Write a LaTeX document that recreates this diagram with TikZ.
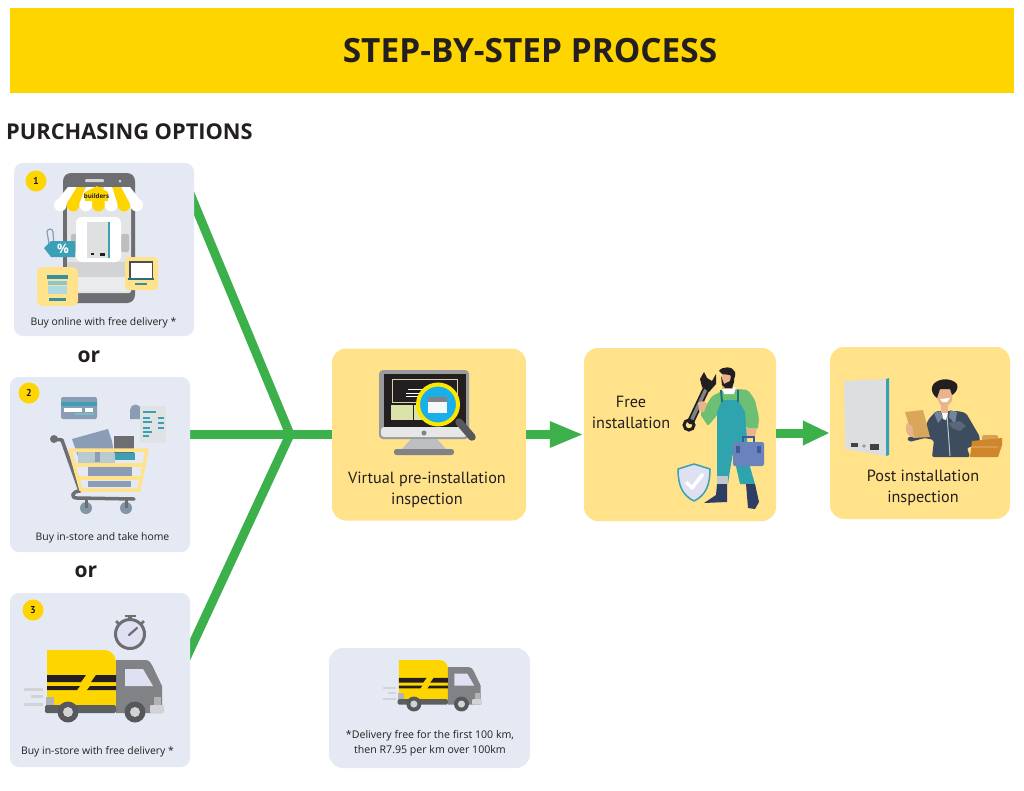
\documentclass[tikz,border=0pt]{standalone}
\usepackage{fontspec}
\setmainfont{PT Sans}
\newfontfamily\capfont{Open Sans}
\usetikzlibrary{arrows.meta,calc}
\definecolor{banner}{HTML}{FFD500}
\definecolor{cardblue}{HTML}{E4E9F4}
\definecolor{cardyellow}{HTML}{FFE28A}
\definecolor{flow}{HTML}{3CB04B}
\definecolor{ink}{HTML}{231F20}
\definecolor{dgrey}{HTML}{6D6E71}
\definecolor{mgrey}{HTML}{808285}
\definecolor{lgrey}{HTML}{D1D3D4}
\definecolor{teal}{HTML}{3AA0B5}
\definecolor{slate}{HTML}{8A9DB5}
\definecolor{lav}{HTML}{DFE0F2}
\definecolor{overall}{HTML}{2FA3AE}
\definecolor{shirt}{HTML}{6CBF73}
\definecolor{skin}{HTML}{E9B48C}
\definecolor{jacket}{HTML}{3D4C5E}
\definecolor{tan}{HTML}{D9A65C}
\definecolor{box}{HTML}{D0862B}
\definecolor{kitblue}{HTML}{6B83BD}
\definecolor{kitdark}{HTML}{3F5A9A}
\definecolor{boot}{HTML}{2C3E63}
\definecolor{panelgreen}{HTML}{DCE3A8}
\definecolor{lens}{HTML}{1AAEEB}
\definecolor{rim}{HTML}{FDE600}
\tikzset{
  x=1pt,y=-1pt,
  card/.style={rectangle,rounded corners=9pt,inner sep=0pt,fill=cardblue},
  stage/.style={rectangle,rounded corners=14pt,inner sep=0pt,fill=cardyellow},
  badge/.style={circle,fill=banner,minimum size=21pt,inner sep=0pt,text=ink,font=\fontsize{10}{10}\selectfont\bfseries},
  caption/.style={text=ink,font=\capfont\fontsize{10.4}{12.5}\selectfont,align=center},
  stagetext/.style={text=ink,font=\fontsize{16.2}{21}\selectfont,align=center},
  orword/.style={text=ink,font=\capfont\fontsize{21}{22}\selectfont\bfseries},
  flowline/.style={draw=flow,line width=9pt},
  flowarrow/.style={draw=flow,line width=9pt,-{Triangle[length=34pt,width=24pt]}},
  truckart/.pic={
    \fill[banner] (47,650) -- (104,650) .. controls (112,650) and (116,656) .. (116,664) -- (116,707) -- (47,707) -- cycle;
    \fill[mgrey] (116,660) -- (145,660) .. controls (149,660) and (150,662) .. (152,665) -- (162,686) -- (162,713) -- (116,713) -- cycle;
    \fill[lav] (125,669) -- (143,669) -- (153,686) -- (125,686) -- cycle;
    \fill[ink] (47,675) -- (86,675) -- (81,682) -- (47,682) -- cycle;
    \fill[ink] (96,675) -- (116,675) -- (116,682) -- (91,682) -- cycle;
    \fill[ink] (47,686) -- (80,686) -- (77,690) -- (47,690) -- cycle;
    \fill[ink] (90,686) -- (116,686) -- (116,690) -- (87,690) -- cycle;
    \fill[dgrey!85!black,rounded corners=1.5pt] (45,705) rectangle (116,713);
    \fill[lgrey!85!black] (46,697) rectangle (54,705);
    \fill[lgrey!85!black] (154,697) rectangle (161,706);
    \fill[lgrey,rounded corners=1pt] (150,705) rectangle (164,713);
    \fill[lgrey] (24,688) rectangle (43,691);
    \fill[lgrey] (31,695) rectangle (43,698);
    \fill[lgrey] (24,703) rectangle (43,706);
    \foreach \wx in {68,135}{
      \fill[dgrey!80!black] (\wx,712) circle (10.5pt);
      \fill[lgrey] (\wx,712) circle (5pt);
    }
  }
}
\begin{document}
\begin{tikzpicture}
\useasboundingbox (0,0) rectangle (1024,790);
\fill[white] (0,0) rectangle (1024,790);

% hub of the three purchasing routes
\coordinate (hub) at (290,434.5);
\coordinate (from1) at (186,184);
\coordinate (from2) at (180,434.5);
\coordinate (from3) at (182,667);
\coordinate (into1) at (340,434.5);
\draw[flowline] (from1) -- (hub);
\draw[flowline] (from3) -- (hub);
\draw[flowline] (from2) -- (into1);

% header
\node[rectangle,fill=banner,minimum width=1004pt,minimum height=85pt,inner sep=0pt] (header) at (512,50.5) {};
\node[text=ink,font=\capfont\fontsize{33.4}{34}\selectfont\bfseries] (title) at (530,50.5) {STEP-BY-STEP PROCESS};
\node[text=ink,font=\capfont\fontsize{21.8}{24}\selectfont\bfseries,anchor=west,inner sep=0pt] (sub) at (6,132) {PURCHASING OPTIONS};

% cards
\node[card,minimum width=180pt,minimum height=173pt] (card1) at (104,249.5) {};
\node[card,minimum width=180pt,minimum height=175pt] (card2) at (100,464.5) {};
\node[card,minimum width=180pt,minimum height=174pt] (card3) at (100,680) {};
\node[card,rounded corners=14pt,minimum width=201pt,minimum height=120pt] (note) at (429.5,708) {};
\node[stage,minimum width=194pt,minimum height=172pt] (box1) at (429,434.5) {};
\node[stage,minimum width=192pt,minimum height=173pt] (box2) at (680,434.5) {};
\node[stage,minimum width=180pt,minimum height=172pt] (box3) at (920,433) {};

% connectors
\draw[flowarrow] (box1.east) -- (box2.west);
\draw[flowarrow,-{Triangle[length=27pt,width=23pt]}] (box2.east |- box3.west) -- (box3.west);

% badges and "or"
\node[badge] (b1) at (36,181) {1};
\node[badge] (b2) at (29,393) {2};
\node[badge] (b3) at (33,610) {3};
\node[orword] (or1) at (89,356.5) {or};
\node[orword] (or2) at (86,571.5) {or};

% --- shop on a phone ---
\fill[dgrey,rounded corners=8pt] (63,173) rectangle (135,303);
\fill[lgrey!60,rounded corners=2pt] (67,188) rectangle (131,293);
\fill[lgrey] (67,262) rectangle (131,277);
\fill[lgrey!45] (67,277) rectangle (131,291);
\fill[lgrey!90!black,rounded corners=2pt] (71,234) rectangle (79,252);
\fill[lgrey!90!black,rounded corners=2pt] (121,234) rectangle (129,252);
\fill[lgrey,rounded corners=1pt] (85,179) rectangle (104,182);
\fill[lgrey] (120,181) circle (1.5pt);
\foreach \i/\col in {0/white,1/banner,2/white,3/banner,4/white,5/banner,6/white}{
  \pgfmathsetmacro{\ba}{54+\i*12.71}
  \pgfmathsetmacro{\bb}{\ba+12.71}
  \pgfmathsetmacro{\ta}{68+\i*8.86}
  \pgfmathsetmacro{\tb}{\ta+8.86}
  \pgfmathsetmacro{\cx}{(\ba+\bb)/2}
  \fill[\col] (\ta,187) -- (\tb,187) -- (\bb,204) -- (\ba,204) -- cycle;
  \fill[\col] (\cx,205) circle (6.35pt);
}
\fill[banner] (85,192) -- (97,186) -- (108,192) -- (108,201) -- (85,201) -- cycle;
\node[text=ink,inner sep=0pt,font=\capfont\fontsize{6.2}{6.5}\selectfont\bfseries] (logo) at (96.5,196) {builders};
\fill[white,rounded corners=6pt] (76,217) rectangle (121,262);
\fill[lgrey!70] (87,222) rectangle (108,258);
\fill[teal] (108,222) rectangle (110,258);
\fill[ink] (91,253) rectangle (94,255);
\fill[ink] (100,253) rectangle (105,256);
\draw[slate,line width=1.2pt] (50,249) -- (47,232) arc[start angle=180,end angle=0,radius=3pt] -- (54,247);
\fill[teal] (44,248) -- (51,241) -- (75,241) -- (75,257) -- (51,257) -- cycle;
\node[text=white,inner sep=0pt,font=\capfont\fontsize{13}{13}\selectfont\bfseries] (pct) at (63,249) {\%};
\fill[cardyellow,rounded corners=5pt] (37,267) rectangle (78,306);
\fill[teal!90!black] (47,275) rectangle (68,279);
\fill[teal!60] (48,281) rectangle (67,285);
\fill[teal!40] (48,286) rectangle (67,294);
\fill[teal!90!black] (49,298) rectangle (66,301);
\fill[cardyellow,rounded corners=4pt] (125,257) rectangle (158,290);
\fill[ink!80] (129,261) rectangle (153,279);
\fill[white] (130.5,262.5) rectangle (151.5,277.5);
\fill[teal!70!black] (128,278) rectangle (154,280);
\fill[teal!90!black] (135,283) rectangle (147,285);
\node[caption] (c1) at (103.5,323) {Buy online with free delivery *};

% --- shopping cart ---
\fill[slate,rounded corners=2pt] (61,397) rectangle (97,419);
\fill[teal] (61,402) rectangle (97,406);
\fill[white] (64,408) rectangle (82,412);
\fill[white] (85,408) rectangle (93,412);
\fill[teal!70] (75,413) rectangle (94,415);
\fill[slate] (130,419) -- (130,410) arc[start angle=180,end angle=0,radius=5.5pt] -- (141,419) -- cycle;
\fill[lgrey!65] (140,406) -- (166,406) -- (166,443) -- (140,443) -- cycle;
\foreach \ly/\lx in {411/156,417/150,421/152,427/150,431/152,435/149}
  \fill[teal] (143,\ly) rectangle (\lx,\ly+1.6);
\foreach \ly in {417,422,427}
  \fill[teal] (158,\ly) rectangle (164,\ly+1.6);
\fill[slate] (72,439) -- (108,429) -- (112,441) -- (115,462) -- (80,462) -- cycle;
\fill[teal!15!lgrey] (78,452) rectangle (115,464);
\fill[slate] (95,447) rectangle (100,462);
\fill[dgrey] (114,436) rectangle (134,453);
\fill[teal] (115,453) rectangle (135,460);
\fill[slate] (88,466) rectangle (132,477);
\fill[slate] (88,481) rectangle (131,487);
\draw[dgrey,line width=3.5pt,line cap=round,line join=round] (53,439) -- (62,440) -- (80,491) .. controls (72,491) and (70,498) .. (77,498) -- (134,499);
\fill[dgrey] (54,439) circle (4pt);
\draw[cardyellow,line width=3.5pt,line join=round] (70,450) -- (147,450) -- (139,490) -- (81,490) -- cycle;
\draw[cardyellow,line width=3.2pt] (74,465) -- (144,465);
\draw[cardyellow,line width=3.2pt] (77,478) -- (142,478);
\fill[slate!80!dgrey] (86,508) circle (6pt);
\fill[slate!80!dgrey] (126,508) circle (6pt);
\fill[dgrey] (84.5,499) rectangle (87.5,508);
\fill[dgrey] (124.5,499) rectangle (127.5,508);
\node[caption] (c2) at (102.5,538) {Buy in-store and take home};

% --- delivery truck and stopwatch ---
\fill[dgrey] (124.5,614.5) rectangle (135.5,617);
\fill[dgrey] (128,617) rectangle (132,620);
\draw[dgrey,line width=2.5pt] (116,621) -- (119,624);
\draw[dgrey,line width=2.5pt] (144,621) -- (141,624);
\draw[dgrey,fill=lav,line width=3pt] (130,634) circle (14.5pt);
\draw[dgrey,line width=2.2pt,line cap=round] (129,635) -- (137,628);
\pic at (0,0) {truckart};
\node[caption] (c3) at (97.5,752) {Buy in-store with free delivery *};

% --- delivery note ---
\begin{scope}[shift={(365.6,198.5)},scale=0.71,transform shape]
\pic[transform shape] at (0,0) {truckart};
\end{scope}
\node[caption,font=\capfont\fontsize{10.6}{15}\selectfont] (c4) at (430,743.5) {*Delivery free for the first 100 km,\\then R7.95 per km over 100km};

% --- monitor with magnifier ---
\fill[dgrey!70,rounded corners=4pt] (379,370) rectangle (469,439);
\fill[lgrey!55,rounded corners=3pt] (381,427) rectangle (467,437);
\fill[ink] (384,374) rectangle (466,427);
\draw[lgrey!80!banner,line width=1pt] (392,379.5) rectangle (457,402);
\fill[white] (408,389) rectangle (425,390);
\fill[white] (406,393) rectangle (425,394);
\fill[white] (406,396) rectangle (418,397);
\fill[panelgreen] (391,405) rectangle (413,420);
\fill[panelgreen] (414,405) rectangle (430,420);
\fill[mgrey] (424,433) circle (2.5pt);
\fill[lgrey!80!dgrey] (411,439) -- (437,439) -- (446,449) -- (402,449) -- cycle;
\fill[mgrey,rounded corners=2.5pt] (394,449) rectangle (454,455);
\draw[dgrey!80!black,line width=7.5pt,line cap=round] (459,422) -- (472,437);
\draw[rim,fill=lens,line width=4pt] (438,404.5) circle (20pt);
\fill[white!92!slate] (428,397) rectangle (447,413);
\fill[mgrey] (428,397) rectangle (447,402);
\node[stagetext] (t1) at (427,489.5) {Virtual pre-installation\\inspection};

% --- installer with wrench, toolbox and shield ---
\node[stagetext] (t2) at (631,412) {Free\\installation};
\draw[ink,line width=7pt,line cap=round] (691,421) -- (708,385);
\draw[mgrey,line width=3.5pt,line cap=round] (692,419) -- (707,387);
\draw[ink,line width=3pt] (689,425) circle (5pt);
\fill[ink] (704,372) -- (707,378) -- (712,381) -- (716,374) -- (716,384) -- (709,392) -- (702,387) -- (700,379) -- cycle;
% arms and shirt
\fill[shirt,rounded corners=2pt] (708,426) -- (700,414) -- (704,409) -- (712,396) -- (722,391) -- (738,389) -- (748,390) -- (755,400) -- (759,418) -- (758,429) -- (746,428) -- (744,414) -- (718,414) -- cycle;
\fill[skin] (698,403) .. controls (702,400) and (705,401) .. (707,404) -- (704,412) -- (699,411) -- cycle;
\fill[skin] (746,428) -- (757,428) -- (755,437) -- (746,439) -- cycle;
% overalls
\fill[overall] (722,400) -- (738,400) -- (745,412) -- (747,440) -- (748,460) -- (755,484) -- (740,484) -- (733,453) -- (730,470) -- (728,484) -- (717,484) -- (717,440) -- (717,412) -- cycle;
\draw[overall!70!black,line width=2pt] (722,402) -- (721,390);
\draw[overall!70!black,line width=2pt] (738,402) -- (738,390);
\fill[lgrey!80!slate] (717,476) -- (728,476) -- (728,484) -- (717,484) -- cycle;
% boots
\fill[boot] (717,484) -- (727,484) -- (727,502) -- (704,503) -- (716,495) -- cycle;
\fill[boot] (746,484) -- (755,484) -- (759,502) -- (755,509) -- (748,508) -- cycle;
% head
\fill[white] (722,387) -- (736,387) -- (734,394) -- (724,394) -- cycle;
\fill[skin] (722,373) rectangle (733,389);
\fill[ink] (721,376) -- (724,384) -- (730,381) -- (731,376) .. controls (733,372) and (735,378) .. (734,382) -- (732,388) -- (725,388) -- (722,385) -- cycle;
\fill[ink] (719,371) .. controls (722,366) and (733,366) .. (735,372) .. controls (736,376) and (734,379) .. (733,380) -- (730,375) -- (722,374) -- cycle;
% toolbox
\draw[kitdark,line width=1.5pt] (743,442) -- (743,437) -- (754,437) -- (754,442);
\fill[kitblue,rounded corners=2pt] (733,442) rectangle (764,466);
\fill[kitdark] (736,446) rectangle (740,453);
\fill[kitdark] (757,446) rectangle (761,453);
% shield
\draw[teal,fill=lav,line width=1.5pt,line join=round] (694,464) -- (710,469) .. controls (710,485) and (706,495) .. (694,501) .. controls (682,495) and (678,485) .. (678,469) -- cycle;
\draw[white,line width=3.5pt,line join=round] (686,482) -- (692,488) -- (703,474);

% --- boiler and inspector ---
\fill[lgrey!75] (844,381) -- (886,379) -- (886,456) -- (845,449) -- cycle;
\fill[teal] (886,379) -- (889,378) -- (889,455) -- (886,456) -- cycle;
\fill[ink!85] (851,443) rectangle (858,447);
\fill[slate] (864,446) circle (1.8pt);
\fill[ink!85] (870,444) rectangle (879,450);
% inspector's jacket and arms
\fill[jacket,rounded corners=2pt] (936,411) -- (958,411) -- (966,413) -- (980,437) -- (979,444) -- (967,448) -- (970,457) -- (932,457) -- (934,440) -- (925,438) -- (909,442) -- (907,438) -- (924,432) -- (928,420) -- cycle;
\draw[lgrey!70!slate,line width=1pt] (947,415) -- (950,456);
\fill[slate!70!jacket] (940,411) -- (934,413) -- (938,423) -- (943,417) -- cycle;
\fill[slate!70!jacket] (950,410) -- (957,412) -- (955,424) -- (949,417) -- cycle;
\fill[white] (942,413) -- (948,413) -- (946,420) -- (943,419) -- cycle;
% clipboard
\fill[tan] (905,412) -- (923,410) -- (930,437) -- (913,438) -- cycle;
\fill[skin] (907,423) .. controls (904,430) and (908,439) .. (914,437) -- (912,426) -- cycle;
\fill[jacket!85!white] (949,423) -- (960,421) -- (966,426) -- (960,431) -- (952,428) -- cycle;
% head
\fill[skin] (938,388) -- (952,388) -- (952,401) -- (946,408) -- (941,406) -- (937,398) -- cycle;
\fill[skin] (941,404) rectangle (948,413);
\fill[white] (940,399) -- (950,398) -- (947,402) -- (942,402) -- cycle;
\fill[ink] (932,387) .. controls (934,379) and (950,376) .. (957,384) .. controls (959,388) and (955,394) .. (952,395) -- (950,389) -- (940,389) -- (937,398) .. controls (934,396) and (931,392) .. (932,387) -- cycle;
% tool chest
\fill[tan!85!box,rounded corners=1.5pt] (982,435) rectangle (998,441);
\fill[box] (972,441) -- (1002,438) -- (1002,445) -- (998,457) -- (970,457) -- cycle;
\fill[tan!70!box] (971,446) rectangle (998,448);
\node[stagetext] (t3) at (923,487.5) {Post installation\\inspection};
\end{tikzpicture}
\end{document}
